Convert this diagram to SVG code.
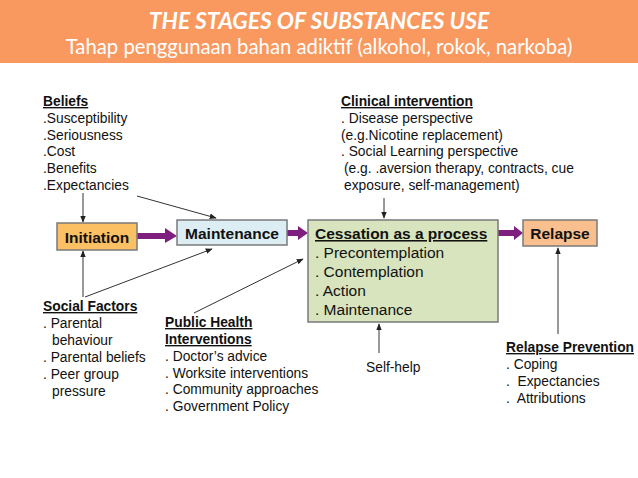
<svg xmlns="http://www.w3.org/2000/svg" width="638" height="478" viewBox="0 0 638 478">
<style>
.t{font-family:"Liberation Sans",Arial,sans-serif;font-size:13.8px;fill:#111;white-space:pre}
.b{font-weight:bold;text-decoration:underline}
.box{stroke:#7a7a7a;stroke-width:1.5}
.lbl{font-family:"Liberation Sans",Arial,sans-serif;font-size:15.5px;font-weight:bold;fill:#111}
.big{font-family:"Liberation Sans",Arial,sans-serif;font-size:15.5px;fill:#111}
.thin{stroke:#333;stroke-width:1;fill:none;marker-end:url(#ah)}
.fat{fill:#7e1f80}
</style>
<defs>
<marker id="ah" viewBox="0 0 10 10" refX="9" refY="5" markerWidth="7" markerHeight="7" orient="auto" markerUnits="userSpaceOnUse">
<path d="M0,1 L10,5 L0,9 z" fill="#222"/>
</marker>
</defs>
<rect width="638" height="478" fill="#fff"/>
<g id="header">
<rect x="0" y="0" width="638" height="63" fill="#f9995f"/>
<text x="319" y="29" text-anchor="middle" font-family="Lato,'Open Sans',sans-serif" font-size="22.8" font-weight="bold" font-style="italic" fill="#fff">THE STAGES OF SUBSTANCES USE</text>
<text x="319" y="54" text-anchor="middle" font-family="Lato,'Open Sans',sans-serif" font-size="20.3" fill="#fff">Tahap penggunaan bahan adiktif (alkohol, rokok, narkoba)</text>
</g>
<g id="connectors">
<polygon class="fat" points="137,233 165,233 165,228 177,236 165,243 165,239 137,239"/>
<polygon class="fat" points="287,230 298,230 298,226 308,233 298,240 298,236 287,236"/>
<polygon class="fat" points="498,230 514,230 514,226 523,233 514,240 514,236 498,236"/>
<line class="thin" x1="83" y1="193" x2="83" y2="222"/>
<line class="thin" x1="137" y1="196" x2="216" y2="218"/>
<line class="thin" x1="83" y1="297" x2="83" y2="251"/>
<line class="thin" x1="85" y1="297" x2="212" y2="249"/>
<line class="thin" x1="194" y1="313" x2="303" y2="259"/>
<line class="thin" x1="384" y1="198" x2="384" y2="218"/>
<line class="thin" x1="379" y1="353" x2="379" y2="324"/>
<line class="thin" x1="558" y1="334" x2="558" y2="248"/>
</g>
<g id="initiation">
<rect class="box" x="57" y="223" width="80" height="27" fill="#fbc063"/>
<text class="lbl" x="97" y="243" text-anchor="middle">Initiation</text>
</g>
<g id="maintenance">
<rect class="box" x="177" y="220" width="110" height="25" fill="#dcedf4"/>
<text class="lbl" x="232" y="239" text-anchor="middle">Maintenance</text>
</g>
<g id="cessation">
<rect class="box" x="308" y="220" width="190" height="102" fill="#d7e4bd"/>
<text class="lbl b" x="315" y="239">Cessation as a process</text>
<text class="big" x="315" y="258">. Precontemplation</text>
<text class="big" x="315" y="277">. Contemplation</text>
<text class="big" x="315" y="296">. Action</text>
<text class="big" x="315" y="315">. Maintenance</text>
</g>
<g id="relapse">
<rect class="box" x="523" y="220" width="74" height="26" fill="#fabf8f"/>
<text class="lbl" x="560" y="239" text-anchor="middle">Relapse</text>
</g>
<g id="beliefs">
<text class="t b" x="43" y="106">Beliefs</text>
<text class="t" x="43" y="123">.Susceptibility</text>
<text class="t" x="43" y="140">.Seriousness</text>
<text class="t" x="43" y="156">.Cost</text>
<text class="t" x="43" y="173">.Benefits</text>
<text class="t" x="43" y="190">.Expectancies</text>
</g>
<g id="clinical">
<text class="t b" x="341" y="106">Clinical intervention</text>
<text class="t" x="341" y="123">. Disease perspective</text>
<text class="t" x="341" y="140">(e.g.Nicotine replacement)</text>
<text class="t" x="341" y="156">. Social Learning perspective</text>
<text class="t" x="344" y="173">(e.g. .aversion therapy, contracts, cue</text>
<text class="t" x="344" y="190">exposure, self-management)</text>
</g>
<g id="social">
<text class="t b" x="43" y="311">Social Factors</text>
<text class="t" x="43" y="328">. Parental</text>
<text class="t" x="52" y="345">behaviour</text>
<text class="t" x="43" y="362">. Parental beliefs</text>
<text class="t" x="43" y="379">. Peer group</text>
<text class="t" x="52" y="396">pressure</text>
</g>
<g id="public">
<text class="t b" x="165" y="327">Public Health</text>
<text class="t b" x="165" y="344">Interventions</text>
<text class="t" x="165" y="361">. Doctor’s advice</text>
<text class="t" x="165" y="378">. Worksite interventions</text>
<text class="t" x="165" y="394">. Community approaches</text>
<text class="t" x="165" y="411">. Government Policy</text>
</g>
<g id="selfhelp">
<text class="t" x="366" y="372">Self-help</text>
</g>
<g id="prevention">
<text class="t b" x="506" y="352">Relapse Prevention</text>
<text class="t" x="506" y="369">. Coping</text>
<text class="t" x="506" y="386">.  Expectancies</text>
<text class="t" x="506" y="403">.  Attributions</text>
</g>
</svg>
